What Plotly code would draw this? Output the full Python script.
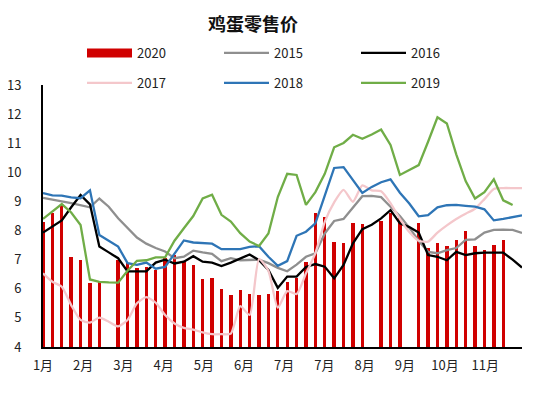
import plotly.graph_objects as go

# weekly index 0..51
weeks = list(range(52))

tick_labels = ["1月", "2月", "3月", "4月", "5月", "6月", "7月", "7月", "8月", "9月", "10月", "11月"]

y2020 = [8.3, 8.6, 8.9, 7.1, 7.0, 6.2, 6.25, None, 7.0, 6.9, 6.7, 6.75, 6.65, 7.05, 7.15, 6.95,
         6.8, 6.35, 6.36, 6.0, 5.8, 5.95, 5.82, 5.78, 5.82, 5.93, 6.25, 6.36, 6.93, 8.62, 8.46, 7.62,
         7.56, 8.25, 8.23, None, 8.33, 8.62, 8.45, None, 8.26, 7.39, 7.56, 7.47, 7.66, 7.99, 7.47,
         7.32, 7.49, 7.66, None, None]

y2015 = [9.12, 9.05, 9.0, 8.94, 8.86, 8.8, 9.1, 8.82, 8.42, 8.08, 7.76, 7.55, 7.4, 7.28, 7.05, 7.1,
         7.31, 7.25, 7.2, 6.95, 7.05, 6.98, 7.0, 7.0, 6.88, 6.72, 6.6, 6.83, 7.1, 7.22, 7.9, 8.33,
         8.4, 8.8, 9.18, 9.19, 9.15, 8.82, 8.5, 8.1, 7.65, 7.27, 7.22, 7.33, 7.4, 7.68, 7.7, 7.93,
         8.02, 8.03, 8.02, 7.92]

y2016 = [7.93, 8.13, 8.35, 8.8, 9.22, 8.9, 7.45, 7.25, 7.05, 6.6, 6.6, 6.6, 6.9, 7.0, 6.87, 6.93,
         7.12, 6.93, 6.9, 6.78, 6.9, 7.05, 7.18, 6.98, 6.65, 6.03, 6.42, 6.42, 6.75, 6.85, 6.76, 6.36,
         6.82, 7.56, 8.05, 8.2, 8.42, 8.7, 8.25, 8.12, 7.93, 7.16, 7.1, 6.98, 7.27, 7.16, 7.22, 7.24,
         7.25, 7.24, 7.0, 6.73]

y2017 = [6.53, 6.24, 6.07, 5.44, 4.93, 4.84, 5.01, 4.87, 4.71, 4.93, 5.5, 5.71, 5.52, 5.1, 4.81, 4.66,
         4.6, 4.5, 4.44, 4.44, 4.46, 5.4, 5.1, 7.02, 6.62, 5.35, 5.92, 5.82, 6.53, 7.22, 8.3, 8.97,
         9.4, 8.99, 9.55, 9.38, 9.35, 8.94, 8.4, 7.95, 7.65, 7.62, 7.93, 8.18, 8.4, 8.58, 8.75, 9.08,
         9.43, 9.46, 9.46, 9.46]

y2018 = [9.29, 9.21, 9.2, 9.14, 9.11, 9.38, 7.85, 7.66, 7.45, 6.88, 6.82, 6.9, 6.69, 6.75, 7.22, 7.66,
         7.59, 7.56, 7.55, 7.36, 7.37, 7.36, 7.44, 7.46, 7.1, 6.79, 6.95, 7.82, 7.96, 8.25, 9.2, 10.15,
         10.18, 9.74, 9.29, 9.5, 9.66, 9.76, 9.3, 8.93, 8.49, 8.53, 8.8, 8.87, 8.88, 8.85, 8.82, 8.73,
         8.35, 8.4, 8.45, 8.52]

y2019 = [8.4, 8.65, 8.91, 8.62, 8.19, 6.32, 6.24, 6.22, 6.21, 6.62, 6.96, 6.98, 7.08, 7.08, 7.65, 8.08,
         8.5, 9.1, 9.23, 8.54, 8.31, 7.91, 7.62, 7.47, 7.9, 9.15, 9.95, 9.91, 8.88, 9.32, 9.95, 10.86,
         11.01, 11.29, 11.15, 11.3, 11.47, 10.94, 9.91, 10.08, 10.25, 11.05, 11.89, 11.68, 10.62, 9.7,
         9.1, 9.32, 9.76, 9.04, 8.88, None]

# The page body has an 8px default margin, so the figure is drawn 8px smaller
# and all positions below are in figure pixels.
W, H = 542, 385
ML, MR, MT, MB = 35, 28, 77, 46
PW, PH = W - ML - MR, H - MT - MB
FONT = "Noto Sans CJK SC"


def px_x(px):
    return (px - ML) / PW


def px_y(py):
    return (H - MB - py) / PH


fig = go.Figure()

fig.add_trace(go.Bar(x=weeks, y=y2020, marker=dict(color="#D00000", line=dict(width=0)),
                     width=0.36, showlegend=False, name="2020"))
# legend entry for the bar series (wide red swatch)
fig.add_trace(go.Scatter(x=[None], y=[None], mode="lines", name="2020",
                         line=dict(color="#D00000", width=9), legend="legend"))

lines = [
    ("2015", y2015, "#8F8F8F", "linear", "legend"),
    ("2016", y2016, "#000000", "linear", "legend"),
    ("2017", y2017, "#F4C7CB", "spline", "legend2"),
    ("2018", y2018, "#2E75B6", "linear", "legend2"),
    ("2019", y2019, "#70AD47", "linear", "legend2"),
]
for name, ys, col, shape, lg in lines:
    ln = dict(color=col, width=2.3, shape=shape)
    if shape == "spline":
        ln["smoothing"] = 0.6
    fig.add_trace(go.Scatter(x=weeks, y=ys, mode="lines", name=name, line=ln,
                             legend=lg, connectgaps=False))

tick_pos = [i * 4.28 for i in range(len(tick_labels))]

leg_common = dict(orientation="h", xref="paper", yref="paper",
                  xanchor="left", yanchor="middle", itemwidth=45,
                  entrywidth=77, entrywidthmode="pixels",
                  font=dict(family=FONT, size=13, color="#222222"),
                  bgcolor="rgba(0,0,0,0)", traceorder="normal")

fig.update_layout(
    width=W, height=H,
    margin=dict(l=ML, r=MR, t=MT, b=MB),
    paper_bgcolor="white", plot_bgcolor="white",
    font=dict(family=FONT, color="#222222"),
    title=dict(text="<b>鸡蛋零售价</b>", x=245 / W, xanchor="center",
               y=1 - 17 / H, yanchor="middle", font=dict(family=FONT, size=18, color="#111111")),
    bargap=0,
    legend=dict(x=px_x(74), y=px_y(45), **leg_common),
    legend2=dict(x=px_x(74), y=px_y(75), **leg_common),
    xaxis=dict(range=[0, 51], tickmode="array", tickvals=tick_pos, ticktext=tick_labels,
               showline=True, linecolor="#000000", linewidth=2, showgrid=False, zeroline=False,
               ticks="", ticklabelstandoff=5, automargin=False,
               tickfont=dict(family=FONT, size=13, color="#222222")),
    yaxis=dict(range=[4, 13], dtick=1, tick0=4, showline=True, linecolor="#000000", linewidth=2,
               showgrid=False, zeroline=False, ticks="", ticklabelstandoff=17, automargin=False,
               tickfont=dict(family=FONT, size=13, color="#222222")),
)

fig.write_html("out.html")
